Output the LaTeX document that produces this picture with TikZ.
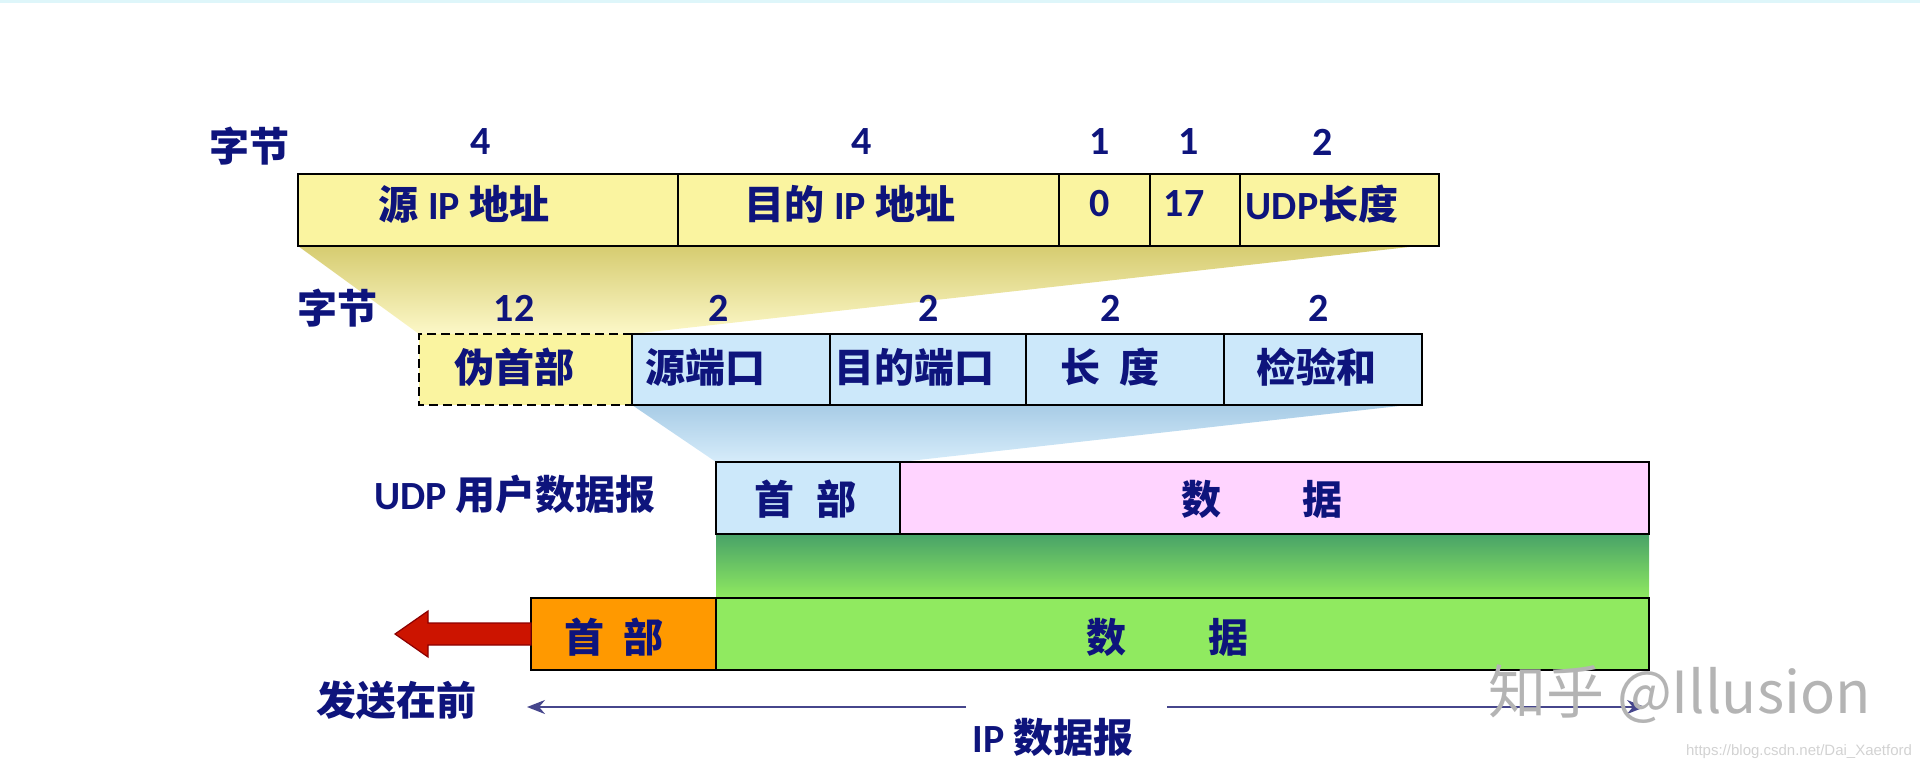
\documentclass[tikz,border=0pt]{standalone}
\usepackage{fontspec}
\setmainfont{Carlito}
\newfontfamily\cjk{Noto Sans CJK SC}
\newfontfamily\urlfont{Liberation Sans}
\usetikzlibrary{arrows.meta,calc}
\pgfdeclarelayer{background}
\pgfsetlayers{background,main}
\definecolor{navy}{RGB}{14,20,124}
\definecolor{pyellow}{RGB}{250,244,160}
\definecolor{pblue}{RGB}{204,232,250}
\definecolor{ppink}{RGB}{255,212,255}
\definecolor{porange}{RGB}{255,153,0}
\definecolor{pgreen}{RGB}{144,234,96}
\definecolor{dgreen}{RGB}{72,162,104}
\definecolor{mgreen}{RGB}{132,222,100}
\definecolor{yshadeA}{RGB}{214,204,112}
\definecolor{yshadeB}{RGB}{252,248,200}
\definecolor{bshadeA}{RGB}{168,204,230}
\definecolor{bshadeB}{RGB}{214,236,250}
\definecolor{arrred}{RGB}{204,20,0}
\definecolor{arrdark}{RGB}{140,0,0}
\definecolor{dimcol}{RGB}{70,70,140}
\definecolor{wmgray}{RGB}{180,180,180}
\definecolor{urlgray}{RGB}{210,210,210}
\definecolor{topline}{RGB}{222,246,250}
\newcommand\zh[1]{{\cjk\bfseries #1}}
\newcommand\fieldbox[6]{\node[fbox,#6,anchor=north west,minimum width={(#4-#2)*0.5pt},minimum height={(#5-#3)*0.5pt}] (#1) at (#2,#3) {};}
\begin{document}
\begin{tikzpicture}[x=0.5pt,y=-0.5pt,
  every node/.style={inner sep=0pt,outer sep=0pt},
  txt/.style={font=\fontsize{20}{24}\selectfont\bfseries,text=navy},
  fbox/.style={draw=black,line width=1.2pt},
  dimarrow/.style={draw=dimcol,line width=1pt,-{Stealth[length=9pt,width=7pt]}},
  redarrow/.style={fill=arrred,draw=arrdark,line width=0.6pt}]
\useasboundingbox (0,0) rectangle (1920,772);
\fill[topline] (0,0) rectangle (1920,3);

% top row: IP pseudo header fields
\fieldbox{srcip}{298}{174}{678}{246}{fill=pyellow}
\fieldbox{dstip}{678}{174}{1059}{246}{fill=pyellow}
\fieldbox{zero}{1059}{174}{1150}{246}{fill=pyellow}
\fieldbox{proto}{1150}{174}{1240}{246}{fill=pyellow}
\fieldbox{udplen}{1240}{174}{1439}{246}{fill=pyellow}

% second row: UDP header
\node[fill=pyellow,anchor=north west,minimum width={(632-419)*0.5pt},minimum height={(405-334)*0.5pt}] (pseudo) at (419,334) {};
\draw[line width=1.2pt,dash pattern=on 4.5pt off 2.5pt] (pseudo.north east) -- (pseudo.north west) -- (pseudo.south west) -- (pseudo.south east);
\fieldbox{sport}{632}{334}{830}{405}{fill=pblue}
\fieldbox{dport}{830}{334}{1026}{405}{fill=pblue}
\fieldbox{ulen}{1026}{334}{1224}{405}{fill=pblue}
\fieldbox{chk}{1224}{334}{1422}{405}{fill=pblue}

% UDP datagram
\fieldbox{uhdr}{716}{462}{900}{534}{fill=pblue}
\fieldbox{udata}{900}{462}{1649}{534}{fill=ppink}

% IP datagram
\fieldbox{ihdr}{531}{598}{716}{670}{fill=porange}
\fieldbox{idata}{716}{598}{1649}{670}{fill=pgreen}

\begin{pgfonlayer}{background}
  \shade[top color=yshadeA,bottom color=yshadeB]
    (srcip.south west) -- (1418,246) -- (pseudo.north east) -- (pseudo.north west) -- cycle;
  \shade[top color=bshadeA,bottom color=bshadeB]
    (sport.south west) -- (1408,405) -- (uhdr.north east) -- (uhdr.north west) -- cycle;
  \shade[top color=dgreen,middle color=mgreen,bottom color=pgreen]
    (uhdr.south west) rectangle (idata.north east);
\end{pgfonlayer}

% labels row 1
\node[txt] (b1) at (249,146) {\zh{字节}};
\node[txt] (n1) at (481,142) {4};
\node[txt] (n2) at (862,142) {4};
\node[txt] (n3) at (1100,142) {1};
\node[txt] (n4) at (1189,142) {1};
\node[txt] (n5) at (1323,142) {2};
\node[txt] (t1) at (464,204) {\zh{源} IP \zh{地址}};
\node[txt] (t2) at (850,204) {\zh{目的} IP \zh{地址}};
\node[txt] (t3) at (1100,204) {0};
\node[txt] (t4) at (1184,204) {17};
\node[txt] (t5) at (1322,204) {UDP\zh{长度}};

% labels row 2
\node[txt] (b2) at (337,308) {\zh{字节}};
\node[txt] (m1) at (514,308) {12};
\node[txt] (m2) at (719,308) {2};
\node[txt] (m3) at (929,308) {2};
\node[txt] (m4) at (1111,308) {2};
\node[txt] (m5) at (1319,308) {2};
\node[txt] (s1) at (514,367) {\zh{伪首部}};
\node[txt] (s2) at (705,367) {\zh{源端口}};
\node[txt] (s3) at (914,367) {\zh{目的端口}};
\node[txt] (s4) at (1110,367) {\zh{长}\hspace{9.5pt}\zh{度}};
\node[txt] (s5) at (1316,367) {\zh{检验和}};

% UDP datagram labels
\node[txt] (udplbl) at (515,494) {UDP \zh{用户数据报}};
\node[txt] (uh) at (805,499) {\zh{首}\hspace{11pt}\zh{部}};
\node[txt] (ud) at (1262,499) {\zh{数}\hspace{40.5pt}\zh{据}};

% IP datagram labels
\node[txt] (ih) at (614,637) {\zh{首}\hspace{9.5pt}\zh{部}};
\node[txt] (id) at (1167,637) {\zh{数}\hspace{41pt}\zh{据}};
\node[txt] (send) at (396,700) {\zh{发送在前}};
\node[txt] (iplbl) at (1053,737) {IP \zh{数据报}};

% red arrow
\draw[redarrow] (ihdr.west) ++(0,-11) -- (428,623) -- (428,611) -- (395,634) -- (428,657) -- (428,645) -- ($(ihdr.west)+(0,11)$) -- cycle;

% IP datagram extent
\coordinate (dimLs) at (966,707);
\coordinate (dimL) at (527,707);
\coordinate (dimRs) at (1167,707);
\coordinate (dimR) at (1645,707);
\draw[dimarrow] (dimLs) -- (dimL);
\draw[dimarrow] (dimRs) -- (dimR);

% watermarks
\node[anchor=base west,text=wmgray,font=\cjk\fontsize{29}{32}\selectfont] (wm) at (1488,713) {知乎 @Illusion};
\node[anchor=east,text=urlgray,font=\urlfont\fontsize{7.5}{9}\selectfont] (url) at (1912,752) {https://blog.csdn.net/Dai\_Xaetford};
\end{tikzpicture}
\end{document}
